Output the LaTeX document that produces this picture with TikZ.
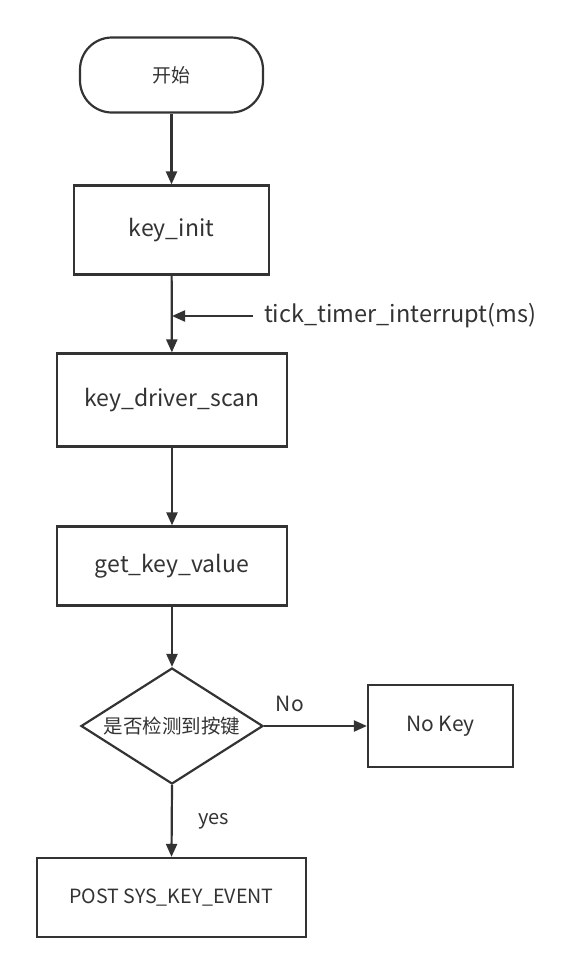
\documentclass[tikz,border=0pt]{standalone}
\usepackage{fontspec}
\setmainfont{Noto Sans CJK SC}
\usetikzlibrary{arrows.meta,shapes.geometric}
\definecolor{ink}{HTML}{333333}
\begin{document}
\begin{tikzpicture}
  [x=1pt,y=-1pt,every node/.style={draw=ink,line width=2.2pt,text=ink,font=\fontsize{20}{22}\selectfont},
   flow/.style={draw=ink,line width=2.2pt,-{Triangle[length=13pt,width=11pt]}}]
  \tikzstyle{proc} = [rectangle,minimum width=230pt,minimum height=93pt]
  \tikzstyle{label} = [draw=none,font=\fontsize{20}{22}\selectfont]
  \useasboundingbox (0,0) rectangle (581,975);
  \node[rectangle,rounded corners=32pt,minimum width=183pt,minimum height=75pt,font=\fontsize{19}{21}\selectfont] (start) at (171.5,75) {开始};
  \node[proc,minimum width=195pt,minimum height=89pt,font=\fontsize{23}{25}\selectfont] (init) at (171.5,230) {key\_init};
  \node[proc,font=\fontsize{23}{25}\selectfont] (scan) at (172,400) {key\_driver\_scan};
  \node[proc,minimum height=79pt,font=\fontsize{23}{25}\selectfont] (getval) at (172,566) {get\_key\_value};
  \node[diamond,aspect=1.57,inner sep=0pt,minimum width=182pt,minimum height=116pt,font=\fontsize{19.5}{21}\selectfont] (detect) at (172,726) {是否检测到按键};
  \node[proc,minimum width=145pt,minimum height=82pt,font=\fontsize{21}{23}\selectfont] (nokey) at (440.5,726) {No Key};
  \node[proc,minimum width=269pt,minimum height=79pt,font=\fontsize{19.6}{22}\selectfont] (post) at (171.5,897.5) {POST SYS\_KEY\_EVENT};
  \coordinate (tick) at (253,316);
  \coordinate (join) at (172,316);
  \node[label,anchor=west,inner sep=0pt,font=\fontsize{23.5}{25}\selectfont] (tickname) at (263,316) {tick\_timer\_interrupt(ms)};
\foreach \source /\dest in {start/init,init/scan,scan/getval,getval/detect,tick/join}
   \draw[flow] (\source) -- (\dest);
  \draw[flow] (detect.east) -- node[label,pos=0.25,above=10pt,font=\fontsize{21}{23}\selectfont] {No} (nokey.west);
  \draw[flow] (detect.south) -- node[label,right=22pt] {yes} (post.north);
\end{tikzpicture}
\end{document}
